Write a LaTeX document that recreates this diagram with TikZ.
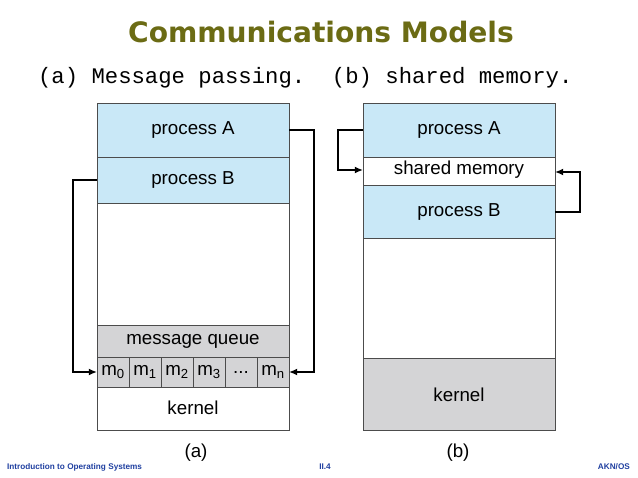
\documentclass[tikz,border=0pt]{standalone}
\usepackage{fontspec}
\setmainfont{Liberation Sans}
\newfontfamily\monofont{Liberation Mono}
\newfontfamily\titlefont{DejaVu Sans}
\usetikzlibrary{positioning,arrows.meta}
\definecolor{procblue}{HTML}{C9E8F7}
\definecolor{kgray}{HTML}{D4D4D6}
\definecolor{titleolive}{HTML}{6B6B14}
\definecolor{footblue}{HTML}{1F3FA0}
\tikzset{
  blk/.style={draw=black!70, line width=0.6pt, inner sep=0pt},
  lbl/.style={font=\fontsize{16}{18}\selectfont},
  conn/.style={-{Latex[length=7pt,width=6pt]}, line width=1.4pt},
}
\begin{document}
\begin{tikzpicture}[x=0.03cm, y=-0.03cm]
\useasboundingbox (0,0) rectangle (638,478);
% title
\node[text=titleolive, font=\titlefont\bfseries\fontsize{24}{28}\selectfont] (title) at (321,32) {Communications Models};
\node[font=\monofont\fontsize{19}{22}\selectfont, anchor=west] (sub) at (34,78) {(a) Message passing.\ \ (b) shared memory.};

% (a) message passing
\filldraw[blk, fill=procblue] (97,103) rectangle (289,157);
\filldraw[blk, fill=procblue] (97,157) rectangle (289,203);
\draw[blk] (97,203) rectangle (289,325);
\filldraw[blk, fill=kgray] (97,325) rectangle (289,357);
\filldraw[blk, fill=kgray] (97,357) rectangle (289,387);
\draw[blk] (97,387) rectangle (289,430);
\foreach \x in {129,161,193,225,257} \draw[blk] (\x,357) -- (\x,387);
\node[lbl] (pa) at (193,130) {process A};
\node[lbl] (pb) at (193,180) {process B};
\node[lbl] (mq) at (193,341) {message queue};
\node[lbl] (m0) at (113,372) {m\textsubscript{0}};
\node[lbl] at (145,372) {m\textsubscript{1}};
\node[lbl] at (177,372) {m\textsubscript{2}};
\node[lbl] at (209,372) {m\textsubscript{3}};
\node[lbl] at (241,372) {...};
\node[lbl] (mn) at (273,372) {m\textsubscript{n}};
\node[lbl] (ka) at (193,408) {kernel};
\coordinate (pbw) at (97,180);
\coordinate (m0w) at (97,372);
\coordinate (pae) at (289,130);
\coordinate (mne) at (289,372);
\draw[conn] (pbw) -- (73,180) -- (73,372) -- (m0w);
\draw[conn] (pae) -- (314,130) -- (314,372) -- (mne);

% (b) shared memory
\filldraw[blk, fill=procblue] (363,103) rectangle (555,157);
\draw[blk] (363,157) rectangle (555,185);
\filldraw[blk, fill=procblue] (363,185) rectangle (555,238);
\draw[blk] (363,238) rectangle (555,358);
\filldraw[blk, fill=kgray] (363,358) rectangle (555,430);
\node[lbl] (pa2) at (459,130) {process A};
\node[lbl] (sm) at (459,170) {shared memory};
\node[lbl] (pb2) at (459,212) {process B};
\node[lbl] (kb) at (459,395) {kernel};
\coordinate (paw) at (363,130);
\coordinate (smw) at (363,170);
\coordinate (pbe) at (555,212);
\coordinate (sme) at (555,172);
\draw[conn] (paw) -- (338,130) -- (338,170) -- (smw);
\draw[conn] (pbe) -- (580,212) -- (580,172) -- (sme);

\node[lbl] (capa) at (196,453) {(a)};
\node[lbl] (capb) at (458,453) {(b)};

% footer
\node[anchor=west, text=footblue, font=\bfseries\fontsize{7}{8}\selectfont] at (3,467) {Introduction to Operating Systems};
\node[text=footblue, font=\bfseries\fontsize{7}{8}\selectfont] at (325,467) {II.4};
\node[anchor=east, text=footblue, font=\bfseries\fontsize{7}{8}\selectfont] at (634,467) {AKN/OS};
\end{tikzpicture}
\end{document}
